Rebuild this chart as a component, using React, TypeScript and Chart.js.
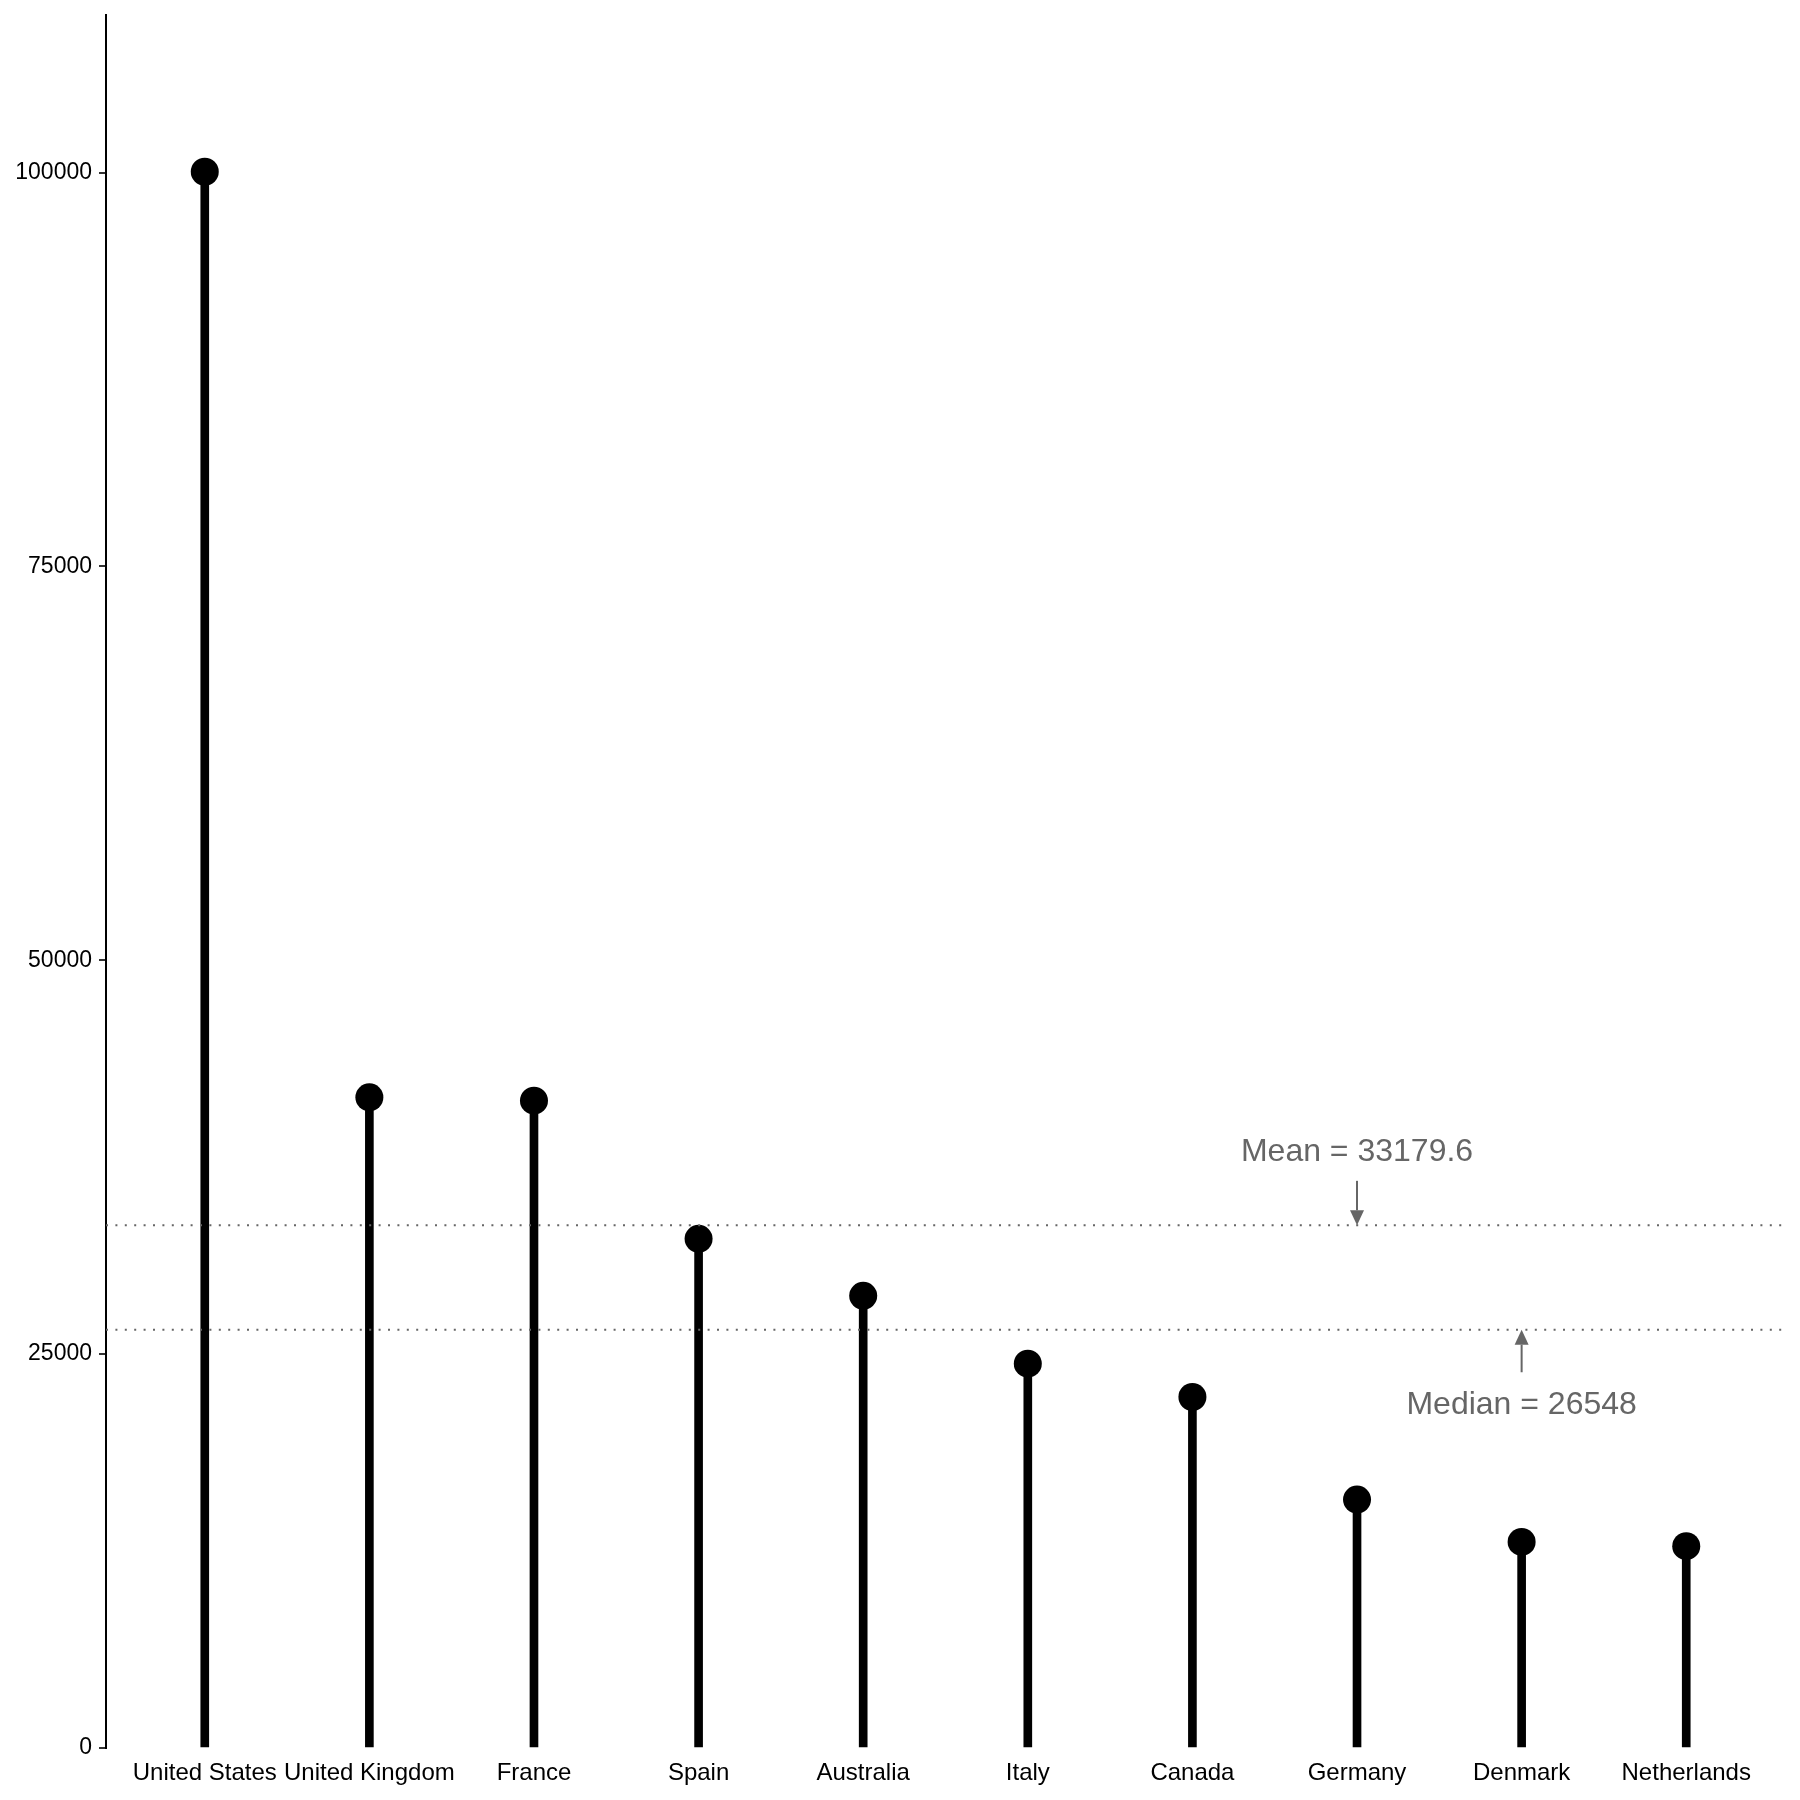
import React, { useEffect, useRef } from "react";
import { Chart, registerables } from "chart.js";

Chart.register(...registerables);

const countries = [
  "United States",
  "United Kingdom",
  "France",
  "Spain",
  "Australia",
  "Italy",
  "Canada",
  "Germany",
  "Denmark",
  "Netherlands",
];
const values = [100050, 41300, 41090, 32320, 28700, 24396, 22280, 15770, 13080, 12810];
const yTicks = [0, 25000, 50000, 75000, 100000];

// annotation placement (in data units)
const noteLabels = ["Mean", "Median"];
const noteX = [7, 8];
const noteTextY = [37800, 21750];
const noteArrowFromY = [36000, 23850];

const FONT = "'Liberation Sans', Arial, sans-serif";

const mean = values.reduce((a, b) => a + b, 0) / values.length;
const sorted = [...values].sort((a, b) => a - b);
const median = (sorted[4] + sorted[5]) / 2;
const refValues = [mean, median];
const refText = [mean.toFixed(1), String(Math.round(median))];

const annotationPlugin = {
  id: "meanMedianNotes",
  afterDatasetsDraw(chart: any) {
    const { ctx, scales } = chart;
    const xs = scales.x;
    const ys = scales.y;
    ctx.save();
    for (let i = 0; i < noteLabels.length; i++) {
      const px = xs.getPixelForValue(noteX[i]);
      const fromY = ys.getPixelForValue(noteArrowFromY[i]);
      const tipY = ys.getPixelForValue(refValues[i]);
      const dir = tipY > fromY ? 1 : -1;
      const headLen = 15;
      const headHalf = 7;
      ctx.strokeStyle = "#666666";
      ctx.fillStyle = "#666666";
      ctx.lineWidth = 2;
      ctx.beginPath();
      ctx.moveTo(px, fromY);
      ctx.lineTo(px, tipY - dir * headLen);
      ctx.stroke();
      ctx.beginPath();
      ctx.moveTo(px, tipY);
      ctx.lineTo(px - headHalf, tipY - dir * headLen);
      ctx.lineTo(px + headHalf, tipY - dir * headLen);
      ctx.closePath();
      ctx.fill();

      ctx.font = `32px ${FONT}`;
      ctx.textAlign = "center";
      ctx.textBaseline = "middle";
      ctx.fillText(`${noteLabels[i]} = ${refText[i]}`, px, ys.getPixelForValue(noteTextY[i]));
    }
    ctx.restore();
  },
};

const App: React.FC = () => {
  const canvasRef = useRef<HTMLCanvasElement | null>(null);

  useEffect(() => {
    if (!canvasRef.current) return;
    const ctx = canvasRef.current.getContext("2d");
    if (!ctx) return;

    const refLine = (y: number) => ({
      type: "line" as const,
      data: [
        { x: -0.6, y },
        { x: 9.6, y },
      ],
      borderColor: "#666666",
      borderWidth: 2,
      borderDash: [2, 7.4],
      pointRadius: 0,
      order: 0,
    });

    const chart = new Chart(ctx, {
      type: "bar",
      data: {
        datasets: [
          {
            type: "bar",
            data: values.map((v, i) => ({ x: i, y: v })),
            backgroundColor: "#000000",
            barThickness: 8,
            order: 2,
          } as any,
          {
            type: "line",
            data: values.map((v, i) => ({ x: i, y: v })),
            showLine: false,
            pointRadius: 14,
            pointBackgroundColor: "#000000",
            pointBorderWidth: 0,
            order: 1,
          },
          refLine(mean),
          refLine(median),
        ],
      },
      options: {
        animation: false,
        responsive: true,
        maintainAspectRatio: false,
        devicePixelRatio: 1,
        layout: { padding: { top: 15, right: 15, left: 0, bottom: 0 } },
        plugins: {
          legend: { display: false },
          tooltip: { enabled: false },
        },
        scales: {
          x: {
            type: "linear",
            offset: false,
            min: -0.6,
            max: 9.6,
            grid: { display: false, drawTicks: false },
            border: { display: false },
            afterBuildTicks: (scale: any) => {
              scale.ticks = countries.map((_, i) => ({ value: i }));
            },
            afterFit: (scale: any) => {
              scale.height = 52;
              scale.paddingLeft = 0;
              scale.paddingRight = 0;
            },
            ticks: {
              autoSkip: false,
              maxRotation: 0,
              padding: 11,
              color: "#000000",
              font: { family: FONT, size: 24 },
              callback: (v: any) => countries[Number(v)] ?? "",
            },
          },
          y: {
            type: "linear",
            min: 0,
            max: 110000,
            grid: {
              display: true,
              drawOnChartArea: false,
              drawTicks: true,
              tickLength: 7,
              lineWidth: 2,
              color: "#333333",
            },
            border: { display: true, color: "#000000", width: 2 },
            afterBuildTicks: (scale: any) => {
              scale.ticks = yTicks.map((v) => ({ value: v }));
            },
            afterFit: (scale: any) => {
              scale.width = 106;
              scale.paddingTop = 0;
              scale.paddingBottom = 0;
            },
            ticks: {
              padding: 7,
              color: "#000000",
              font: { family: FONT, size: 23 },
              callback: (v: any) => String(v),
            },
          },
        },
      },
      plugins: [annotationPlugin],
    });

    return () => {
      chart.destroy();
    };
  }, []);

  return (
    <div
      style={{
        position: "absolute",
        left: 0,
        top: 0,
        width: 1800,
        height: 1800,
        background: "#ffffff",
      }}
    >
      <canvas ref={canvasRef}></canvas>
    </div>
  );
};

export default App;
